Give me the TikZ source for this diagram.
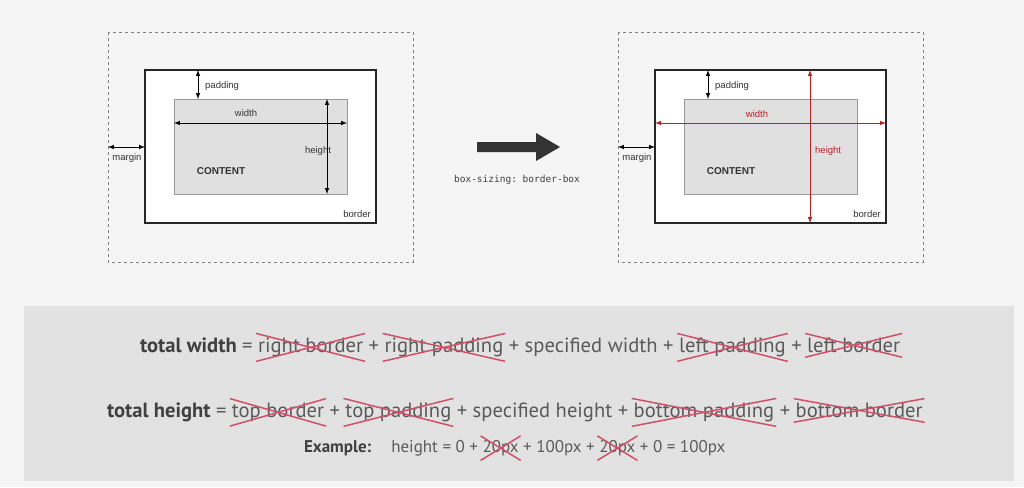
\documentclass[tikz,border=0pt]{standalone}
\usepackage{fontspec}
\setmainfont{PT Sans}
\setsansfont{Liberation Sans}
\setmonofont{DejaVu Sans Mono}
\definecolor{bg}{HTML}{F5F5F5}
\definecolor{panel}{HTML}{E2E2E2}
\definecolor{contentg}{HTML}{E0E0E0}
\definecolor{crossred}{HTML}{D0506A}
\definecolor{dred}{HTML}{B22222}
\definecolor{txt}{HTML}{5A5A5A}
\tikzset{
 seg/.style={inner sep=0pt,outer sep=0pt,text=txt,font=\fontsize{20.6}{24}\selectfont},
 eseg/.style={inner sep=0pt,outer sep=0pt,text=txt,font=\fontsize{17}{19}\selectfont},
 cross/.style={draw=crossred,line width=1.5pt},
 dim/.style={<->,>=latex,line width=1pt},
 lab/.style={font=\sffamily\fontsize{9.5}{10}\selectfont,inner sep=0pt,text=black!80},
}
\newcommand\seg[4][seg]{\node[#1,anchor=base west] (#2) at (#3.base east) {#4};}
\newcommand\xseg[4][seg]{\seg[#1]{#2}{#3}{#4}\draw[cross] ([xshift=-2pt,yshift=4pt]#2.north west) -- ([xshift=2pt,yshift=-5pt]#2.south east);\draw[cross] ([xshift=-2pt,yshift=-5pt]#2.south west) -- ([xshift=2pt,yshift=4pt]#2.north east);}
\begin{document}
\begin{tikzpicture}[x=1pt,y=-1pt]
\fill[bg] (0,0) rectangle (1024,487);
\useasboundingbox (0,0) rectangle (1024,487);
\fill[panel] (24,306) rectangle (1014,481);
% diagrams
\foreach \dx/\nm in {0/L,510/R}{
 \begin{scope}[xshift=\dx]
 \draw[dashed,gray,line width=0.7pt] (108,32) rectangle (413,262);
 \fill[white] (145,70) rectangle (376,223);
 \draw[line width=1.6pt,black!85] (145,70) rectangle (376,223);
 \node[draw=gray!80,fill=contentg,minimum width=173pt,minimum height=95pt,anchor=north west,inner sep=0pt] (c\nm) at (174,99) {};
 \node[lab,font=\sffamily\bfseries\fontsize{10}{11}\selectfont] (ct\nm) at (221,171) {CONTENT};
 \node[lab] (b\nm) at (357,214) {border};
 \coordinate (ml\nm) at (108,147); \coordinate (mr\nm) at (145,147);
 \draw[dim] (ml\nm) -- (mr\nm);
 \node[lab] (m\nm) at (127,158) {margin};
 \coordinate (pt\nm) at (198,70); \coordinate (pb\nm) at (198,99);
 \draw[dim] (pt\nm) -- (pb\nm);
 \node[lab,anchor=west] (p\nm) at (205,86) {padding};
 \end{scope}}
\draw[dim] (174,123) -- (347,123);
\node[lab] (wL) at (246,113) {width};
\node[lab] (hL) at (318,151) {height};
\draw[dim] (327,99) -- (327,194);
\draw[dim,dred] (655,123) -- (886,123);
\node[lab,text=dred] (wR) at (757,114) {width};
\draw[dim,dred] (810,70) -- (810,223);
\node[lab,text=dred,anchor=west] (hR) at (815,151) {height};
% big arrow
\fill[black!80] (477,142) -- (536,142) -- (536,133) -- (560,147) -- (536,161) -- (536,152) -- (477,152) -- cycle;
\node[font=\ttfamily\fontsize{9.5}{10}\selectfont,text=black!75] (bs) at (517,180) {box-sizing: border-box};
% line 1
\coordinate (s1) at (140,352);
\node[seg,anchor=base west,text=black!75,font=\fontsize{20.6}{24}\selectfont\bfseries] (w0) at (s1) {total width};
\seg{w1}{w0}{\ =\ \null}
\xseg{w2}{w1}{right border}
\seg{w3}{w2}{\ +\ \null}
\xseg{w4}{w3}{right padding}
\seg{w5}{w4}{\ +\ specified width +\ \null}
\xseg{w6}{w5}{left padding}
\seg{w7}{w6}{\ +\ \null}
\xseg{w8}{w7}{left border}
% line 2
\coordinate (s2) at (107,417);
\node[seg,anchor=base west,text=black!75,font=\fontsize{20.6}{24}\selectfont\bfseries] (h0) at (s2) {total height};
\seg{h1}{h0}{\ =\ \null}
\xseg{h2}{h1}{top border}
\seg{h3}{h2}{\ +\ \null}
\xseg{h4}{h3}{top padding}
\seg{h5}{h4}{\ +\ specified height +\ \null}
\xseg{h6}{h5}{bottom padding}
\seg{h7}{h6}{\ +\ \null}
\xseg{h8}{h7}{bottom border}
% example
\coordinate (s3) at (304,452);
\node[eseg,anchor=base west,text=black!75,font=\fontsize{17}{19}\selectfont\bfseries] (e0) at (s3) {Example:};
\seg[eseg]{e1}{e0}{\hspace{20pt}height = 0 +\ \null}
\xseg[eseg]{e2}{e1}{20px}
\seg[eseg]{e3}{e2}{\ +\ 100px +\ \null}
\xseg[eseg]{e4}{e3}{20px}
\seg[eseg]{e5}{e4}{\ +\ 0 = 100px}
\end{tikzpicture}
\end{document}
